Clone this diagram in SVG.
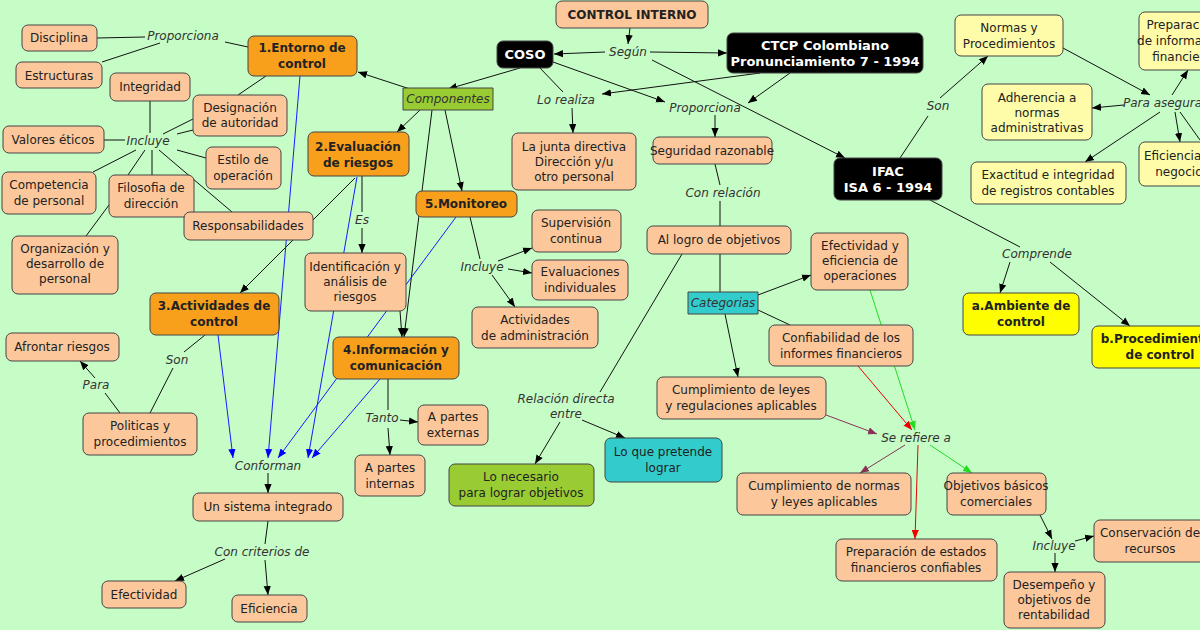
<svg xmlns="http://www.w3.org/2000/svg" width="1200" height="630" viewBox="0 0 1200 630">
<defs>
<marker id="a" viewBox="0 0 10 10" refX="10" refY="5" markerWidth="9" markerHeight="9" orient="auto"><path d="M0,1L10,5L0,9z" fill="#000"/></marker>
<marker id="ab" viewBox="0 0 10 10" refX="10" refY="5" markerWidth="9" markerHeight="9" orient="auto"><path d="M0,1L10,5L0,9z" fill="#00f"/></marker>
<marker id="ar" viewBox="0 0 10 10" refX="10" refY="5" markerWidth="9" markerHeight="9" orient="auto"><path d="M0,1L10,5L0,9z" fill="#e00"/></marker>
<marker id="ag" viewBox="0 0 10 10" refX="10" refY="5" markerWidth="9" markerHeight="9" orient="auto"><path d="M0,1L10,5L0,9z" fill="#2d2"/></marker>
<marker id="ap" viewBox="0 0 10 10" refX="10" refY="5" markerWidth="9" markerHeight="9" orient="auto"><path d="M0,1L10,5L0,9z" fill="#835"/></marker>
</defs>
<style>
text{font-family:"DejaVu Sans",Verdana,sans-serif;font-size:12px;text-anchor:middle;fill:#222}
.b text,text.b{font-weight:bold}
rect{rx:6;ry:6;stroke:#444;stroke-width:1}
.p rect{fill:#fcc89b}
.o rect{fill:#f8a01c}
.k rect{fill:#000}
.k text{fill:#fff;font-weight:bold;font-size:13px}
.y rect{fill:#fefca8}
.Y rect{fill:#fefe00}
.l{font-style:italic;fill:#333}
#c line{stroke:#111;stroke-width:1}
#c line.m{marker-end:url(#a)}
#c line.bl{stroke:#1a1aff;marker-end:url(#ab)}
#c line.r{stroke:#e00;marker-end:url(#ar)}
#c line.g{stroke:#2d2;marker-end:url(#ag)}
#c line.pu{stroke:#835;marker-end:url(#ap)}
</style>
<rect x="0" y="0" width="1200" height="630" fill="#c6fcc6" style="stroke:none;rx:0"/>
<g id="c">
<line class="m" x1="630" y1="28" x2="628" y2="44"/>
<line class="m" x1="605" y1="52" x2="554" y2="54"/>
<line class="m" x1="650" y1="52" x2="727" y2="53"/>
<line x1="540" y1="68" x2="563" y2="92"/>
<line class="m" x1="572" y1="108" x2="573" y2="133"/>
<line class="m" x1="553" y1="62" x2="665" y2="102"/>
<line class="m" x1="715" y1="115" x2="715" y2="137"/>
<line class="m" x1="760" y1="73" x2="602" y2="94"/>
<line class="m" x1="790" y1="73" x2="748" y2="103"/>
<line class="m" x1="652" y1="60" x2="845" y2="158"/>
<line class="m" x1="520" y1="68" x2="448" y2="89"/>
<line class="m" x1="410" y1="89" x2="358" y2="72"/>
<line class="m" x1="420" y1="110" x2="397" y2="132"/>
<line class="m" x1="445" y1="110" x2="462" y2="191"/>
<line class="m" x1="432" y1="110" x2="404" y2="337"/>
<line class="m" x1="355" y1="178" x2="240" y2="293"/>
<line x1="362" y1="176" x2="362" y2="212"/>
<line class="m" x1="362" y1="228" x2="362" y2="253"/>
<line class="m" x1="400" y1="311" x2="402" y2="337"/>
<line x1="470" y1="217" x2="480" y2="259"/>
<line class="m" x1="498" y1="261" x2="532" y2="248"/>
<line class="m" x1="508" y1="269" x2="532" y2="273"/>
<line class="m" x1="492" y1="275" x2="515" y2="307"/>
<line x1="248" y1="47" x2="225" y2="42"/>
<line x1="145" y1="37" x2="97" y2="38"/>
<line x1="160" y1="43" x2="102" y2="62"/>
<line x1="266" y1="76" x2="238" y2="95"/>
<line x1="150" y1="133" x2="150" y2="101"/>
<line x1="104" y1="140" x2="125" y2="140"/>
<line x1="163" y1="134" x2="193" y2="119"/>
<line x1="177" y1="134" x2="193" y2="130"/>
<line x1="177" y1="150" x2="206" y2="158"/>
<line x1="136" y1="150" x2="93" y2="172"/>
<line x1="145" y1="150" x2="128" y2="175"/>
<line x1="152" y1="150" x2="152" y2="175"/>
<line x1="159" y1="150" x2="232" y2="212"/>
<line x1="109" y1="205" x2="86" y2="236"/>
<line class="bl" x1="300" y1="76" x2="268" y2="458"/>
<line class="bl" x1="357" y1="177" x2="308" y2="458"/>
<line class="bl" x1="456" y1="217" x2="278" y2="458"/>
<line class="bl" x1="380" y1="379" x2="312" y2="458"/>
<line class="bl" x1="218" y1="335" x2="233" y2="458"/>
<line x1="205" y1="335" x2="184" y2="352"/>
<line x1="173" y1="368" x2="150" y2="413"/>
<line x1="120" y1="413" x2="105" y2="393"/>
<line class="m" x1="95" y1="378" x2="80" y2="361"/>
<line x1="388" y1="379" x2="388" y2="410"/>
<line class="m" x1="400" y1="420" x2="418" y2="422"/>
<line class="m" x1="388" y1="428" x2="390" y2="455"/>
<line class="m" x1="268" y1="473" x2="268" y2="493"/>
<line x1="268" y1="521" x2="265" y2="544"/>
<line class="m" x1="225" y1="559" x2="175" y2="581"/>
<line class="m" x1="265" y1="560" x2="268" y2="595"/>
<line x1="715" y1="164" x2="720" y2="185"/>
<line x1="720" y1="201" x2="720" y2="226"/>
<line x1="682" y1="254" x2="600" y2="392"/>
<line class="m" x1="560" y1="422" x2="535" y2="464"/>
<line class="m" x1="582" y1="420" x2="625" y2="438"/>
<line x1="720" y1="254" x2="720" y2="292"/>
<line class="m" x1="758" y1="295" x2="811" y2="275"/>
<line x1="758" y1="310" x2="790" y2="325"/>
<line class="m" x1="725" y1="314" x2="738" y2="377"/>
<line class="pu" x1="826" y1="415" x2="877" y2="434"/>
<line class="r" x1="858" y1="366" x2="912" y2="430"/>
<line class="g" x1="870" y1="290" x2="915" y2="430"/>
<line class="pu" x1="905" y1="445" x2="860" y2="473"/>
<line class="g" x1="930" y1="445" x2="972" y2="473"/>
<line class="r" x1="918" y1="445" x2="915" y2="539"/>
<line class="m" x1="1040" y1="515" x2="1052" y2="539"/>
<line class="m" x1="1075" y1="541" x2="1094" y2="536"/>
<line class="m" x1="1055" y1="553" x2="1055" y2="572"/>
<line x1="900" y1="158" x2="928" y2="116"/>
<line class="m" x1="940" y1="98" x2="988" y2="56"/>
<line x1="930" y1="200" x2="1020" y2="247"/>
<line class="m" x1="1010" y1="262" x2="1000" y2="293"/>
<line class="m" x1="1050" y1="262" x2="1130" y2="326"/>
<line class="m" x1="1063" y1="48" x2="1150" y2="95"/>
<line class="m" x1="1124" y1="105" x2="1092" y2="108"/>
<line class="m" x1="1160" y1="112" x2="1085" y2="162"/>
<line class="m" x1="1172" y1="95" x2="1188" y2="70"/>
<line class="m" x1="1175" y1="112" x2="1180" y2="142"/>
<line x1="1180" y1="112" x2="1200" y2="140"/>
</g>
<!-- labels -->
<g id="labels" class="l">
<text class="l" x="628" y="56">Según</text>
<text class="l" x="566" y="104">Lo realiza</text>
<text class="l" x="705" y="112">Proporciona</text>
<text class="l" x="183" y="40">Proporciona</text>
<text class="l" x="148" y="145">Incluye</text>
<text class="l" x="362" y="224">Es</text>
<text class="l" x="482" y="271">Incluye</text>
<text class="l" x="177" y="364">Son</text>
<text class="l" x="96" y="389">Para</text>
<text class="l" x="382" y="422">Tanto</text>
<text class="l" x="268" y="470">Conforman</text>
<text class="l" x="262" y="556">Con criterios de</text>
<text class="l" x="723" y="197">Con relación</text>
<text class="l" x="566" y="403">Relación directa</text>
<text class="l" x="566" y="418">entre</text>
<text class="l" x="916" y="442">Se refiere a</text>
<text class="l" x="1054" y="550">Incluye</text>
<text class="l" x="938" y="110">Son</text>
<text class="l" x="1037" y="258">Comprende</text>
<text class="l" x="1165" y="107">Para asegurar</text>
</g>
<g id="n1" class="p"><rect x="556" y="1" width="152" height="27"/><text class="b" x="632" y="19">CONTROL INTERNO</text></g>
<g id="n2" class="k"><rect x="497" y="41" width="56" height="27"/><text x="525" y="59">COSO</text></g>
<g id="n3" class="k"><rect x="727" y="33" width="196" height="40"/><text x="825" y="50">CTCP Colombiano</text><text x="825" y="66">Pronunciamiento 7 - 1994</text></g>
<g id="n4" class="k"><rect x="834" y="158" width="108" height="42"/><text x="888" y="176">IFAC</text><text x="888" y="192">ISA 6 - 1994</text></g>
<g id="n5" class="y"><rect x="955" y="15" width="108" height="41"/><text x="1009" y="32">Normas y</text><text x="1009" y="48">Procedimientos</text></g>
<g id="n6" class="y"><rect x="1139" y="12" width="80" height="58"/><text x="1182" y="29">Preparación</text><text x="1182" y="45">de información</text><text x="1182" y="61">financiera</text></g>
<g id="n7" class="y"><rect x="982" y="84" width="110" height="56"/><text x="1037" y="102">Adherencia a</text><text x="1037" y="117">normas</text><text x="1037" y="132">administrativas</text></g>
<g id="n8" class="y"><rect x="971" y="162" width="155" height="42"/><text x="1048" y="179">Exactitud e integridad</text><text x="1048" y="195">de registros contables</text></g>
<g id="n9" class="y"><rect x="1139" y="142" width="80" height="44"/><text x="1182" y="160">Eficiencia de</text><text x="1182" y="176">negocios</text></g>
<g id="n10" class="Y b"><rect x="963" y="293" width="116" height="42"/><text x="1021" y="310">a.Ambiente de</text><text x="1021" y="326">control</text></g>
<g id="n11" class="Y b"><rect x="1092" y="326" width="130" height="42"/><text x="1160" y="343">b.Procedimientos</text><text x="1160" y="359">de control</text></g>
<g id="n12" class="p"><rect x="22" y="25" width="75" height="26"/><text x="59" y="42">Disciplina</text></g>
<g id="n13" class="p"><rect x="16" y="62" width="86" height="26"/><text x="59" y="80">Estructuras</text></g>
<g id="n14" class="o b"><rect x="248" y="36" width="109" height="40"/><text x="302" y="52">1.Entorno de</text><text x="302" y="68">control</text></g>
<g id="n15" class="p"><rect x="110" y="73" width="80" height="28"/><text x="150" y="91">Integridad</text></g>
<g id="n16" class="p"><rect x="193" y="95" width="94" height="41"/><text x="240" y="112">Designación</text><text x="240" y="127">de autoridad</text></g>
<g id="n17" class="p"><rect x="3" y="126" width="101" height="27"/><text x="53" y="144">Valores éticos</text></g>
<g id="n18" class="p"><rect x="206" y="147" width="75" height="42"/><text x="243" y="164">Estilo de</text><text x="243" y="180">operación</text></g>
<g id="n19" class="p"><rect x="2" y="172" width="94" height="42"/><text x="49" y="189">Competencia</text><text x="49" y="205">de personal</text></g>
<g id="n20" class="p"><rect x="109" y="175" width="85" height="42"/><text x="151" y="192">Filosofia de</text><text x="151" y="208">dirección</text></g>
<g id="n21" class="p"><rect x="184" y="212" width="129" height="28"/><text x="248" y="230">Responsabilidades</text></g>
<g id="n22" class="p"><rect x="12" y="236" width="106" height="58"/><text x="65" y="253">Organización y</text><text x="65" y="268">desarrollo de</text><text x="65" y="283">personal</text></g>
<g id="n23"><rect x="403" y="88" width="90" height="22" fill="#99cc33" style="rx:0"/><text class="l" x="448" y="103">Componentes</text></g>
<g id="n24" class="o b"><rect x="308" y="132" width="101" height="44"/><text x="358" y="151">2.Evaluación</text><text x="358" y="167">de riesgos</text></g>
<g id="n25" class="p"><rect x="305" y="253" width="101" height="58"/><text x="355" y="271">Identificación y</text><text x="355" y="286">análisis de</text><text x="355" y="301">riesgos</text></g>
<g id="n26" class="o b"><rect x="416" y="191" width="101" height="26"/><text x="466" y="208">5.Monitoreo</text></g>
<g id="n27" class="p"><rect x="512" y="133" width="124" height="57"/><text x="574" y="151">La junta directiva</text><text x="574" y="166">Dirección y/u</text><text x="574" y="181">otro personal</text></g>
<g id="n28" class="p"><rect x="653" y="137" width="119" height="27"/><text x="712" y="155">Seguridad razonable</text></g>
<g id="n29" class="p"><rect x="647" y="226" width="144" height="28"/><text x="719" y="244">Al logro de objetivos</text></g>
<g id="n30" class="p"><rect x="532" y="210" width="89" height="42"/><text x="576" y="227">Supervisión</text><text x="576" y="243">continua</text></g>
<g id="n31" class="p"><rect x="532" y="260" width="96" height="40"/><text x="580" y="276">Evaluaciones</text><text x="580" y="292">individuales</text></g>
<g id="n32" class="p"><rect x="472" y="307" width="126" height="41"/><text x="535" y="324">Actividades</text><text x="535" y="340">de administración</text></g>
<g id="n33" class="o b"><rect x="150" y="293" width="129" height="42"/><text x="214" y="310">3.Actividades de</text><text x="214" y="326">control</text></g>
<g id="n34" class="o b"><rect x="333" y="337" width="126" height="42"/><text x="396" y="354">4.Información y</text><text x="396" y="370">comunicación</text></g>
<g id="n35" class="p"><rect x="6" y="333" width="113" height="28"/><text x="62" y="351">Afrontar riesgos</text></g>
<g id="n36" class="p"><rect x="83" y="413" width="114" height="42"/><text x="140" y="430">Politicas y</text><text x="140" y="446">procedimientos</text></g>
<g id="n37" class="p"><rect x="418" y="405" width="70" height="40"/><text x="453" y="421">A partes</text><text x="453" y="437">externas</text></g>
<g id="n38" class="p"><rect x="355" y="455" width="70" height="41"/><text x="390" y="472">A partes</text><text x="390" y="488">internas</text></g>
<g id="n39" class="p"><rect x="193" y="493" width="150" height="28"/><text x="268" y="511">Un sistema integrado</text></g>
<g id="n40" class="p"><rect x="102" y="581" width="84" height="27"/><text x="144" y="599">Efectividad</text></g>
<g id="n41" class="p"><rect x="232" y="595" width="75" height="27"/><text x="269" y="613">Eficiencia</text></g>
<g id="n42"><rect x="449" y="464" width="145" height="42" fill="#99cc33"/><text x="521" y="481">Lo necesario</text><text x="521" y="497">para lograr objetivos</text></g>
<g id="n43"><rect x="605" y="438" width="117" height="44" fill="#33cccc"/><text x="663" y="456">Lo que pretende</text><text x="663" y="472">lograr</text></g>
<g id="n44"><rect x="688" y="292" width="70" height="22" fill="#33cccc" style="rx:0"/><text class="l" x="723" y="307">Categorias</text></g>
<g id="n45" class="p"><rect x="811" y="233" width="97" height="57"/><text x="860" y="250">Efectividad y</text><text x="860" y="265">eficiencia de</text><text x="860" y="280">operaciones</text></g>
<g id="n46" class="p"><rect x="769" y="325" width="144" height="41"/><text x="841" y="342">Confiabilidad de los</text><text x="841" y="358">informes financieros</text></g>
<g id="n47" class="p"><rect x="657" y="377" width="169" height="42"/><text x="741" y="394">Cumplimiento de leyes</text><text x="741" y="410">y regulaciones aplicables</text></g>
<g id="n48" class="p"><rect x="737" y="473" width="174" height="42"/><text x="824" y="490">Cumplimiento de normas</text><text x="824" y="506">y leyes aplicables</text></g>
<g id="n49" class="p"><rect x="947" y="473" width="99" height="42"/><text x="996" y="490">Objetivos básicos</text><text x="996" y="506">comerciales</text></g>
<g id="n50" class="p"><rect x="836" y="539" width="161" height="42"/><text x="916" y="556">Preparación de estados</text><text x="916" y="572">financieros confiables</text></g>
<g id="n51" class="p"><rect x="1094" y="520" width="120" height="42"/><text x="1150" y="537">Conservación de</text><text x="1150" y="553">recursos</text></g>
<g id="n52" class="p"><rect x="1004" y="572" width="101" height="56"/><text x="1054" y="589">Desempeño y</text><text x="1054" y="604">objetivos de</text><text x="1054" y="619">rentabilidad</text></g>
</svg>
